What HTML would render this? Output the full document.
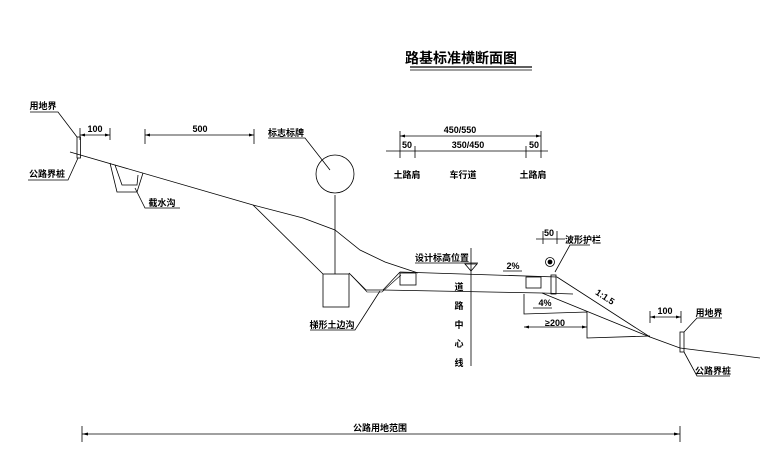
<!DOCTYPE html>
<html><head><meta charset="utf-8"><style>html,body{margin:0;padding:0;background:#fff}svg{display:block}
text{font-family:"Liberation Sans","Noto Sans CJK SC",sans-serif;font-size:9px;font-weight:bold;fill:#000}</style></head>
<body>
<svg width="760" height="468" viewBox="0 0 760 468" xmlns="http://www.w3.org/2000/svg">
<g stroke="#000" stroke-width="0.8" fill="none">
<!-- title underline -->
<line x1="410" y1="67" x2="532" y2="67" stroke-width="1.2"/><line x1="410" y1="70" x2="532" y2="70"/>
<!-- ground left -->
<polyline points="70,152 253,205 303,218 335,230 360,250 385,262 418,273"/>
<!-- cut slope -->
<line x1="253" y1="205" x2="323" y2="274"/>
<rect x="323" y="274" width="26" height="33"/>
<line x1="335" y1="195" x2="335" y2="274"/>
<circle cx="335" cy="174" r="19"/>
<!-- side ditch -->
<polyline points="349,273 366,290 383,290 400,272"/>
<polyline points="351,275 367,292 382,292 401,275" stroke-width="0.6"/>
<!-- road surface -->
<line x1="400" y1="272" x2="557" y2="277"/>
<line x1="383" y1="290" x2="542" y2="293"/>
<line x1="542" y1="293" x2="573" y2="294"/>
<rect x="400" y="273" width="16" height="12"/>
<rect x="526" y="277" width="15" height="11"/>
<rect x="551" y="275" width="5" height="19"/>
<circle cx="550" cy="262" r="4.5"/>
<circle cx="550" cy="262" r="2" fill="#000"/>
<!-- fill slope -->
<polyline points="557,277 650,337 680,348 760,358"/>
<line x1="542" y1="293" x2="650" y2="337"/>
<polyline points="524,294 524,314 587,312 587,338 650,336"/>
<!-- centerline -->
<line x1="471" y1="248" x2="471" y2="366"/>
<polygon points="465,264 477,264 471,271"/>
<line x1="415" y1="263" x2="478" y2="263"/>
<!-- dims -->
<line x1="80" y1="135" x2="110" y2="135"/><line x1="80" y1="128" x2="80" y2="140"/><line x1="110" y1="128" x2="110" y2="140"/>
<line x1="145" y1="135" x2="254" y2="135"/><line x1="145" y1="129" x2="145" y2="144"/><line x1="254" y1="129" x2="254" y2="144"/>
<line x1="400" y1="136" x2="541" y2="136"/><line x1="400" y1="131" x2="400" y2="158"/><line x1="541" y1="131" x2="541" y2="158"/>
<line x1="386" y1="151" x2="548" y2="151"/><line x1="415" y1="146" x2="415" y2="158"/><line x1="526" y1="146" x2="526" y2="158"/>
<line x1="536" y1="239" x2="565" y2="239"/><line x1="543" y1="231" x2="543" y2="244"/><line x1="557" y1="231" x2="557" y2="244"/>
<line x1="524" y1="327" x2="587" y2="327"/>
<line x1="650" y1="317" x2="681" y2="317"/><line x1="650" y1="311" x2="650" y2="323"/><line x1="681" y1="311" x2="681" y2="323"/>
<line x1="82" y1="434" x2="680" y2="434"/><line x1="82" y1="426" x2="82" y2="442"/><line x1="680" y1="426" x2="680" y2="442"/>
<!-- piles -->
<rect x="77" y="137" width="3.5" height="21"/>
<rect x="680" y="332" width="4" height="20"/>
<!-- intercept ditch -->
<polyline points="110,163 117,192 137,192 143,173"/>
<polyline points="115,165 122,185 137,185 138,175"/>
<!-- leaders & underlines -->
<polyline points="30,112 58,112 77,137"/>
<polyline points="28,180 68,180 78,158"/>
<polyline points="180,208 145,208 135,188"/>
<polyline points="268,138 305,138 330,170"/>
<polyline points="310,330 355,330 380,291"/>
<polyline points="590,245 570,245 555,272"/>
<polyline points="722,318 697,318 684,332"/>
<polyline points="730,376 697,376 684,352"/>
<line x1="503" y1="271" x2="522" y2="271"/>
<line x1="533" y1="308" x2="552" y2="308"/>
</g>
<g fill="#000">
<polygon points="80,135 85,133.5 85,136.5"/><polygon points="110,135 105,133.5 105,136.5"/>
<polygon points="145,135 150,133.5 150,136.5"/><polygon points="254,135 249,133.5 249,136.5"/>
<polygon points="400,136 405,134.5 405,137.5"/><polygon points="541,136 536,134.5 536,137.5"/>
<polygon points="524,327 529,325.5 529,328.5"/><polygon points="587,327 582,325.5 582,328.5"/>
<polygon points="650,317 655,315.5 655,318.5"/><polygon points="681,317 676,315.5 676,318.5"/>
<polygon points="82,434 88,432.5 88,435.5"/><polygon points="680,434 674,432.5 674,435.5"/>
</g>
<text x="461" y="63" text-anchor="middle" style="font-size:14px">路基标准横断面图</text>
<text x="43" y="109" text-anchor="middle">用地界</text>
<text x="47" y="177" text-anchor="middle">公路界桩</text>
<text x="95" y="132" text-anchor="middle">100</text>
<text x="200" y="132" text-anchor="middle">500</text>
<text x="162" y="206" text-anchor="middle">截水沟</text>
<text x="286" y="136" text-anchor="middle">标志标牌</text>
<text x="460" y="133" text-anchor="middle">450/550</text>
<text x="407" y="148" text-anchor="middle">50</text>
<text x="468" y="148" text-anchor="middle">350/450</text>
<text x="534" y="148" text-anchor="middle">50</text>
<text x="407" y="178" text-anchor="middle">土路肩</text>
<text x="463" y="178" text-anchor="middle">车行道</text>
<text x="533" y="178" text-anchor="middle">土路肩</text>
<text x="442" y="261" text-anchor="middle">设计标高位置</text>
<text x="513" y="269" text-anchor="middle">2%</text>
<text x="545" y="306" text-anchor="middle">4%</text>
<text x="555" y="326" text-anchor="middle">≥200</text>
<text x="549" y="236" text-anchor="middle">50</text>
<text x="583" y="243" text-anchor="middle">波形护栏</text>
<text x="605" y="300" text-anchor="middle" transform="rotate(33 605 297)">1:1.5</text>
<text x="665" y="314" text-anchor="middle">100</text>
<text x="709" y="316" text-anchor="middle">用地界</text>
<text x="713" y="374" text-anchor="middle">公路界桩</text>
<text x="332" y="328" text-anchor="middle">梯形土边沟</text>
<text x="380" y="431" text-anchor="middle">公路用地范围</text>
<g style="font-size:12px;font-weight:normal">
<text x="459" y="290" text-anchor="middle">道</text>
<text x="459" y="309" text-anchor="middle">路</text>
<text x="459" y="328" text-anchor="middle">中</text>
<text x="459" y="347" text-anchor="middle">心</text>
<text x="459" y="366" text-anchor="middle">线</text>
</g>
</svg>
</body></html>
